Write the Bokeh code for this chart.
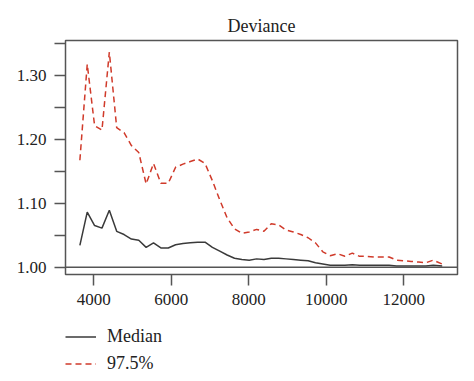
from bokeh.plotting import figure
from bokeh.layouts import column
from bokeh.models import FixedTicker, Span, Legend, LegendItem, Range1d
from bokeh.embed import file_html
from bokeh.resources import INLINE

x_vals = [3640, 3830, 4020, 4210, 4400, 4590, 4780, 4970, 5160, 5350,
          5540, 5730, 5920, 6110, 6300, 6490, 6680, 6870, 7060, 7250,
          7440, 7630, 7820, 8010, 8200, 8390, 8580, 8770, 8960, 9150,
          9340, 9530, 9720, 9910, 10100, 10290, 10480, 10670, 10860, 11050,
          11240, 11430, 11620, 11810, 12000, 12190, 12380, 12570, 12760, 12990]

median = [1.034, 1.086, 1.065, 1.061, 1.089, 1.056, 1.051, 1.044, 1.042, 1.031,
          1.038, 1.030, 1.030, 1.035, 1.037, 1.038, 1.039, 1.039, 1.031, 1.025,
          1.019, 1.014, 1.012, 1.011, 1.013, 1.012, 1.014, 1.014, 1.013, 1.012,
          1.011, 1.010, 1.007, 1.005, 1.003, 1.003, 1.003, 1.004, 1.003, 1.003,
          1.003, 1.003, 1.003, 1.002, 1.002, 1.002, 1.002, 1.002, 1.003, 1.002]

upper = [1.167, 1.317, 1.221, 1.214, 1.336, 1.218, 1.210, 1.190, 1.179, 1.130,
         1.162, 1.131, 1.131, 1.156, 1.161, 1.165, 1.169, 1.162, 1.135, 1.105,
         1.077, 1.060, 1.053, 1.055, 1.059, 1.056, 1.068, 1.066, 1.058, 1.055,
         1.051, 1.046, 1.038, 1.024, 1.018, 1.021, 1.017, 1.022, 1.017, 1.017,
         1.016, 1.016, 1.016, 1.011, 1.010, 1.009, 1.008, 1.007, 1.011, 1.005]

x_ticks = [4000, 6000, 8000, 10000, 12000]
y_ticks = [1.00, 1.05, 1.10, 1.15, 1.20, 1.25, 1.30, 1.35]
y_labels = {1.00: "1.00", 1.05: "", 1.10: "1.10", 1.15: "", 1.20: "1.20",
            1.25: "", 1.30: "1.30", 1.35: ""}
series_names = ["Median", "97.5%"]

SERIF = "Liberation Serif"
MED_COLOR = "#3a3a3a"
UP_COLOR = "#d03a2a"

p = figure(width=466, height=315, output_backend="svg", toolbar_location=None,
           x_range=Range1d(3269, 13385), y_range=Range1d(0.9886, 1.354),
           min_border_left=65, min_border_right=9, min_border_top=40,
           min_border_bottom=41)

p.title.text = "Deviance"
p.title.align = "center"
p.title.text_font = SERIF
p.title.text_font_size = "18px"
p.title.text_font_style = "normal"
p.title.text_color = "#222222"

p.xgrid.visible = False
p.ygrid.visible = False
p.outline_line_color = "#555555"
p.outline_line_width = 1.5
p.background_fill_color = "white"
p.border_fill_color = "white"

for ax in (p.xaxis[0], p.yaxis[0]):
    ax.axis_line_color = None
    ax.major_tick_in = 0
    ax.major_tick_out = 11
    ax.major_tick_line_color = "#555555"
    ax.major_tick_line_width = 1.5
    ax.minor_tick_line_color = None
    ax.major_label_text_font = SERIF
    ax.major_label_text_font_size = "17px"
    ax.major_label_text_color = "#222222"
    ax.major_label_standoff = 8

p.xaxis.ticker = FixedTicker(ticks=x_ticks)
p.yaxis.ticker = FixedTicker(ticks=y_ticks)
p.yaxis.major_label_overrides = y_labels

p.add_layout(Span(location=1.0, dimension="width", line_color="#555555", line_width=1.5))

p.line(x_vals, median, line_color=MED_COLOR, line_width=1.5)
p.line(x_vals, upper, line_color=UP_COLOR, line_width=1.5, line_dash="6 4")

# legend panel below the chart (its frame is aligned with the chart's frame)
p2 = figure(width=466, height=60, output_backend="svg", toolbar_location=None,
            x_axis_location=None, y_axis_location=None,
            min_border_left=0, min_border_right=0, min_border_top=0, min_border_bottom=0,
            x_range=Range1d(0, 1), y_range=Range1d(0, 1))
p2.xgrid.visible = False
p2.ygrid.visible = False
p2.outline_line_color = None
nan = float("nan")
l_med = p2.line([nan], [nan], line_color=MED_COLOR, line_width=1.5)
l_up = p2.line([nan], [nan], line_color=UP_COLOR, line_width=1.5, line_dash="6 4")

legend = Legend(items=[LegendItem(label=series_names[0], renderers=[l_med]),
                       LegendItem(label=series_names[1], renderers=[l_up])],
                location=(0, 1), orientation="vertical",
                border_line_color=None, background_fill_alpha=0,
                glyph_width=31, glyph_height=21, label_standoff=11, spacing=6,
                padding=0, margin=0,
                label_text_font=SERIF, label_text_font_size="18px",
                label_text_color="#222222")
p2.add_layout(legend, "center")

layout = column(p, p2)
open("out.html", "w").write(file_html(layout, INLINE))
